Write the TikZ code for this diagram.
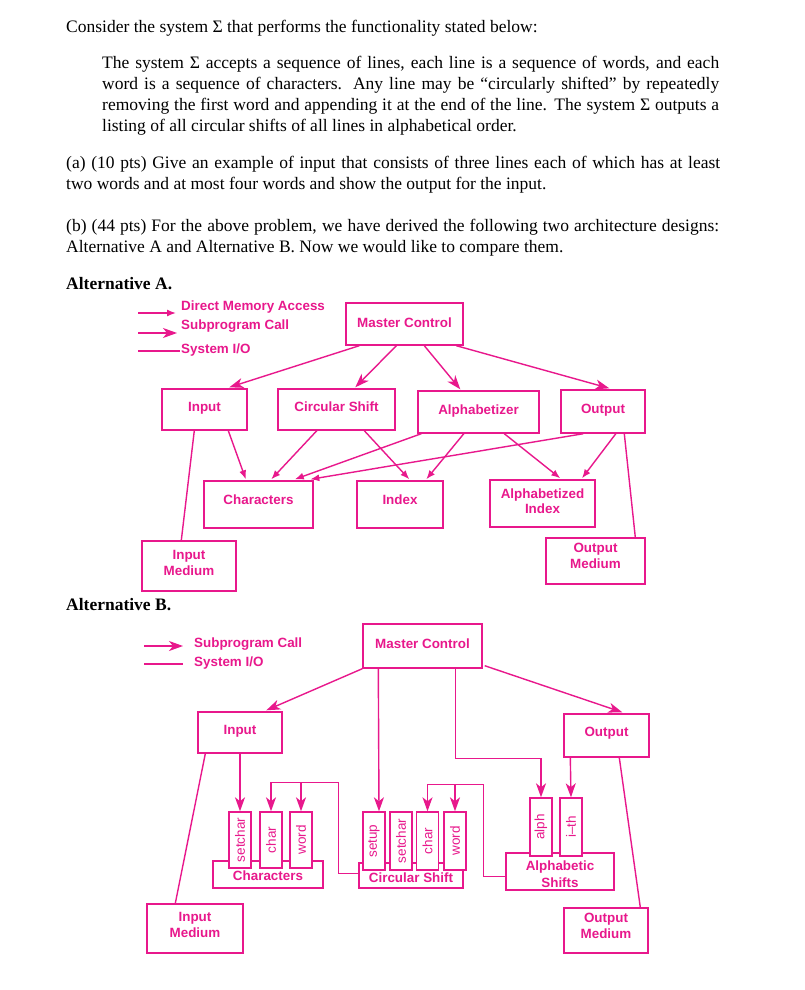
\documentclass[tikz,border=0pt]{standalone}
\usepackage{fontspec}
\setmainfont{Liberation Serif}
\newfontfamily\dsans{Liberation Sans}
\usetikzlibrary{arrows.meta,calc}
\definecolor{pk}{RGB}{232,24,140}
\newcommand{\bt}[2]{\raisebox{#1}[0pt][0pt]{#2}}
\newcommand{\tl}[2]{\begin{tabular}[t]{@{}c@{}}#1\\#2\end{tabular}}
\begin{document}
\begin{tikzpicture}[x=1pt,y=-1pt,
  box/.style={draw=pk, line width=1.4pt, fill=white, inner sep=0pt, text=pk,
    font=\dsans\bfseries\fontsize{13.4}{16}\selectfont, align=center},
  sbox/.style={draw=pk, line width=1.4pt, fill=white, inner sep=0pt, minimum width=22pt,
    text=pk, font=\dsans\fontsize{13.5}{16}\selectfont},
  ln/.style={draw=pk, line width=1.4pt},
  call/.style={ln, -{Stealth[length=14pt,width=10pt,inset=4pt]}},
  dma/.style={ln, -{Latex[length=9pt,width=7pt]}},
  lab/.style={text=pk, font=\dsans\bfseries\fontsize{13.4}{16}\selectfont, anchor=west, inner sep=0pt},
  body/.style={anchor=base west, inner sep=0pt, font=\fontsize{17.5}{21}\selectfont},
  bodyb/.style={body, font=\bfseries\fontsize{17.5}{21}\selectfont}
]
\path[use as bounding box, fill=white] (0,0) rectangle (804,990);

% ---------- text ----------
\node[body] (t1) at (66,33) {Consider the system Σ that performs the functionality stated below:};
\node[body] (p1) at (102,68) {\makebox[617pt][s]{The system Σ accepts a sequence of lines, each line is a sequence of words, and each}};
\node[body] (p2) at (102,89) {\makebox[617pt][s]{word is a sequence of characters. Any line may be “circularly shifted” by repeatedly}};
\node[body] (p3) at (102,110) {\makebox[617pt][s]{removing the first word and appending it at the end of the line. The system Σ outputs a}};
\node[body] (p4) at (102,131) {listing of all circular shifts of all lines in alphabetical order.};
\node[body] (a1) at (66,168) {\makebox[654pt][s]{(a) (10 pts) Give an example of input that consists of three lines each of which has at least}};
\node[body] (a2) at (66,189) {two words and at most four words and show the output for the input.};
\node[body] (b1) at (66,231) {\makebox[653pt][s]{(b) (44 pts) For the above problem, we have derived the following two architecture designs:}};
\node[body] (b2) at (66,252) {Alternative A and Alternative B. Now we would like to compare them.};
\node[bodyb] (altA) at (66,289) {Alternative A.};
\node[bodyb] (altB) at (66,610) {Alternative B.};

% ---------- Alternative A legend ----------
\coordinate (la1) at (138,313); \coordinate (la2) at (176,313);
\coordinate (lb1) at (138,333); \coordinate (lb2) at (177,333);
\coordinate (lc1) at (138,351); \coordinate (lc2) at (180,351);
\draw[dma] (la1) -- (la2);
\draw[call] (lb1) -- (lb2);
\draw[ln] (lc1) -- (lc2);
\node[lab] (lga) at (181,307) {Direct Memory Access};
\node[lab] (lgb) at (181,326) {Subprogram Call};
\node[lab] (lgc) at (181,350) {System I/O};

% ---------- Alternative A boxes ----------
\node[box, minimum width=117pt, minimum height=42pt] (MCa) at (404.5,324) {\bt{-3.6pt}{Master Control}};
\node[box, minimum width=85pt, minimum height=41pt] (Ina) at (204.5,409.5) {\bt{-1.8pt}{Input}};
\node[box, minimum width=117pt, minimum height=41pt] (CSa) at (336.5,409.5) {\bt{-2.1pt}{Circular Shift}};
\node[box, minimum width=121pt, minimum height=42pt] (ALa) at (478.5,412) {\bt{-2.6pt}{Alphabetizer}};
\node[box, minimum width=84pt, minimum height=43pt] (OUa) at (603,411.5) {\bt{-2.1pt}{Output}};
\node[box, minimum width=109pt, minimum height=47pt] (CHa) at (258.5,504.5) {\bt{-0.2pt}{Characters}};
\node[box, minimum width=86pt, minimum height=47pt] (IXa) at (400,504.5) {\bt{-0.2pt}{Index}};
\node[box, minimum width=105pt, minimum height=47pt] (AIa) at (542.5,503.5) {\bt{4.8pt}{\begin{tabular}[t]{@{}c@{}}Alphabetized\\[-1pt]Index\end{tabular}}};
\node[box, minimum width=94pt, minimum height=50pt] (IMa) at (189,566) {\bt{6.3pt}{\tl{Input}{Medium}}};
\node[box, minimum width=99pt, minimum height=46pt] (OMa) at (595.5,561) {\bt{8.3pt}{\tl{Output}{Medium}}};

% ---------- Alternative A connectors ----------
\draw[call] ($(MCa.south west)+(14,0)$) -- ($(Ina.north west)+(68,-1)$);
\draw[call] ($(MCa.south west)+(51,0)$) -- ($(CSa.north west)+(78,-1)$);
\draw[call] ($(MCa.south west)+(79,0)$) -- ($(ALa.north west)+(43,-1)$);
\draw[call] ($(MCa.south west)+(111,0)$) -- ($(OUa.north west)+(49,-1)$);
\draw[dma] ($(Ina.south west)+(67,0)$) -- ($(CHa.north west)+(42.5,-1)$);
\draw[ln] ($(Ina.south west)+(33,0)$) -- ($(IMa.north west)+(40,0)$);
\draw[dma] ($(CSa.south west)+(39.5,0)$) -- ($(CHa.north west)+(68,-1)$);
\draw[dma] ($(CSa.south west)+(87,0)$) -- ($(IXa.north west)+(53,-1)$);
\draw[dma] ($(ALa.south west)+(4,0)$) -- ($(CHa.north west)+(91.5,-1)$);
\draw[dma] ($(ALa.south west)+(46.5,0)$) -- ($(IXa.north west)+(70,-1)$);
\draw[dma] ($(ALa.south west)+(87,0)$) -- ($(AIa.north west)+(71,-1)$);
\draw[dma] ($(OUa.south west)+(23,0)$) -- ($(CHa.north west)+(107,-1)$);
\draw[dma] ($(OUa.south west)+(55.5,0)$) -- ($(AIa.north west)+(92.7,-1)$);
\draw[ln] ($(OUa.south west)+(64,0)$) -- ($(OMa.north west)+(90,0)$);

% ---------- Alternative B legend ----------
\coordinate (lbb1) at (144,646); \coordinate (lbb2) at (183,646);
\coordinate (lbc1) at (144,664); \coordinate (lbc2) at (183,664);
\draw[call] (lbb1) -- (lbb2);
\draw[ln] (lbc1) -- (lbc2);
\node[lab] (lgbb) at (194,644) {Subprogram Call};
\node[lab] (lgbc) at (194,663) {System I/O};

% ---------- Alternative B boxes ----------
\node[box, minimum width=119pt, minimum height=44pt] (MCb) at (422.5,646) {\bt{-2.6pt}{Master Control}};
\node[box, minimum width=84pt, minimum height=41pt] (Inb) at (240,732.5) {\bt{-2.1pt}{Input}};
\node[box, minimum width=85pt, minimum height=43pt] (Oub) at (606.5,735.5) {\bt{-1.1pt}{Output}};
\node[box, minimum width=96pt, minimum height=49pt] (IMb) at (195,928.5) {\bt{6.9pt}{\tl{Input}{Medium}}};
\node[box, minimum width=84pt, minimum height=45pt] (OMb) at (606,930.5) {\bt{7.9pt}{\tl{Output}{Medium}}};
\node[box, minimum width=110pt, minimum height=27pt] (CHb) at (268,874.5) {\bt{-6.1pt}{Characters}};
\node[box, minimum width=104pt, minimum height=25pt] (CSb) at (411,875.5) {\bt{-7.1pt}{Circular Shift}};
\node[box, minimum width=108pt, minimum height=37pt] (ASb) at (560,871.5) {\bt{0.9pt}{\begin{tabular}[t]{@{}c@{}}Alphabetic\\[1pt]Shifts\end{tabular}}};

\node[sbox, minimum height=56pt] (setcharch) at (240,840) {\rotatebox{90}{setchar}};
\node[sbox, minimum height=56pt] (charch) at (271,840) {\rotatebox{90}{char}};
\node[sbox, minimum height=56pt] (wordch) at (301,840) {\rotatebox{90}{word}};
\node[sbox, minimum height=58pt] (setupcs) at (374,841) {\rotatebox{90}{setup}};
\node[sbox, minimum height=58pt] (setcharcs) at (401,841) {\rotatebox{90}{setchar}};
\node[sbox, minimum height=58pt] (charcs) at (427.5,841) {\rotatebox{90}{char}};
\node[sbox, minimum height=58pt] (wordcs) at (455,841) {\rotatebox{90}{word}};
\node[sbox, minimum height=58pt] (alph) at (541,827) {\rotatebox{90}{alph}};
\node[sbox, minimum height=58pt] (ith) at (571,827) {\rotatebox{90}{i–th}};

% ---------- Alternative B connectors ----------
\draw[call] (MCb.south west) -- ($(Inb.north west)+(69,-1)$);
\draw[call] ($(MCb.south west)+(16,0)$) -- ($(setupcs.north)+(5,0)$);
\draw[call] ($(MCb.south west)+(93,0)$) |- ($(alph.north)+(0,-39)$) -- (alph.north);
\draw[call] ($(MCb.south east)+(2,-3)$) -- ($(Oub.north west)+(59,-1)$);
\draw[call] ($(Oub.south west)+(7,0)$) -- (ith.north);
\draw[ln] ($(Oub.south west)+(56,0)$) -- ($(OMb.north west)+(77,0)$);
\draw[call] (Inb.south) -- (setcharch.north);
\draw[ln] ($(Inb.south west)+(8,0)$) -- ($(IMb.north west)+(29,0)$);
\draw[call] ($(CSb.south west)+(0,-15)$) -- ++(-20,0) |- ($(charch.north)+(0,-29)$) -- (charch.north);
\draw[call] ($(wordch.north)+(0,-29)$) -- (wordch.north);
\draw[call] ($(ASb.south west)+(0,-14)$) -- ++(-22,0) |- ($(charcs.north)+(0,-27)$) -- (charcs.north);
\draw[call] ($(wordcs.north)+(0,-27)$) -- (wordcs.north);
\end{tikzpicture}
\end{document}
